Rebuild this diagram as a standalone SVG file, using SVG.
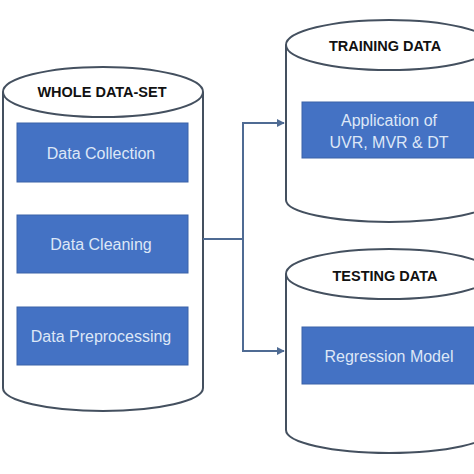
<svg xmlns="http://www.w3.org/2000/svg" width="474" height="474" viewBox="0 0 474 474">
<defs>
<style>
.cyl{fill:#ffffff;stroke:#44505f;stroke-width:2}
.box{fill:#4472c4;stroke:#3a62a8;stroke-width:1}
.title{font-family:"Liberation Sans",Arial,sans-serif;font-weight:bold;font-size:14.5px;fill:#111111;text-anchor:middle}
.lbl{font-family:"Liberation Sans",Arial,sans-serif;font-size:16px;fill:#dde7f7;text-anchor:middle}
.conn{fill:none;stroke:#4f6b93;stroke-width:2}
</style>
<marker id="arr" viewBox="0 0 10 10" refX="9" refY="5" markerWidth="4" markerHeight="4" orient="auto">
<path d="M0,0 L10,5 L0,10 z" fill="#4f6b93"/>
</marker>
</defs>
<rect width="474" height="474" fill="#ffffff"/>
<g id="whole">
<path class="cyl" d="M3,92 L3,388 A100,23 0 0 0 203,388 L203,92"/>
<ellipse class="cyl" cx="103" cy="92" rx="100" ry="25"/>
<text class="title" x="102" y="97">WHOLE DATA-SET</text>
<rect class="box" x="17" y="123" width="171" height="59"/>
<text class="lbl" x="101" y="159">Data Collection</text>
<rect class="box" x="17" y="215" width="171" height="58"/>
<text class="lbl" x="101" y="250">Data Cleaning</text>
<rect class="box" x="17" y="307" width="171" height="58"/>
<text class="lbl" x="101" y="342">Data Preprocessing</text>
</g>
<g id="training">
<path class="cyl" d="M286,45 L286,200 A103,22 0 0 0 492,200 L492,45"/>
<ellipse class="cyl" cx="389" cy="45" rx="103" ry="25"/>
<text class="title" x="385" y="51">TRAINING DATA</text>
<rect class="box" x="302" y="102" width="176" height="56"/>
<text class="lbl" x="389" y="126">Application of</text>
<text class="lbl" x="389" y="148">UVR, MVR &amp; DT</text>
</g>
<g id="testing">
<path class="cyl" d="M286,274 L286,430 A103,23 0 0 0 492,430 L492,274"/>
<ellipse class="cyl" cx="389" cy="274" rx="103" ry="25"/>
<text class="title" x="385" y="281">TESTING DATA</text>
<rect class="box" x="302" y="327" width="176" height="57"/>
<text class="lbl" x="389" y="362">Regression Model</text>
</g>
<g id="connectors">
<path class="conn" d="M203,239 L243,239"/>
<path class="conn" d="M243,239 L243,123 L284,123" marker-end="url(#arr)"/>
<path class="conn" d="M243,239 L243,351 L284,351" marker-end="url(#arr)"/>
</g>
</svg>
